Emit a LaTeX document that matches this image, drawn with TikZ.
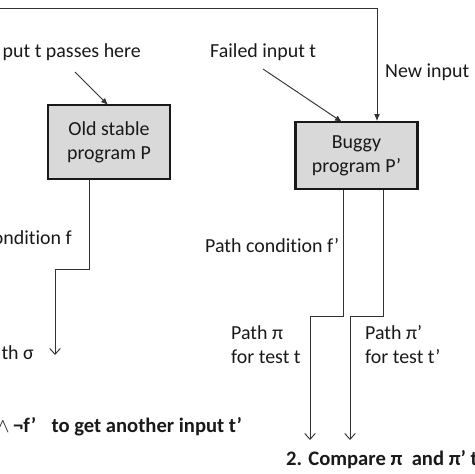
\documentclass[tikz,border=0pt]{standalone}
\usepackage{fontspec}
\setmainfont{Carlito}[Ligatures=NoCommon]
\usetikzlibrary{arrows.meta}

\begin{document}
\begin{tikzpicture}[
    x=0.03cm, y=-0.03cm,
    every node/.style={font=\fontsize{17}{20.5}\selectfont, inner sep=0pt, align=left, text=black!90},
    step note/.style={font=\fontsize{17.6}{21}\selectfont\bfseries},
    prog/.style={draw=black!90, line width=1.8pt, fill=black!15, align=center,
                 minimum width=3.66cm, minimum height=2.2cm},
    wire/.style={draw=black!80, line width=0.8pt},
    feed/.style={wire, -{Latex[length=6pt,width=5pt]}},
    trace/.style={wire, -{Straight Barb[length=5pt,width=9pt]}}
]
  \useasboundingbox (0,0) rectangle (474,474);
  \clip (0,0) rectangle (474,474);

  % Program boxes
  \node[prog] (old) at (109,142) {Old stable\\program P};
  \node[prog, minimum height=2.0cm] (buggy) at (356.5,155.5) {Buggy\\program P’};

  % Inputs
  \node[anchor=east] (passtxt) at (141,52) {put t passes here};
  \node[anchor=west] (failtxt) at (210,52) {Failed input t};
  \node[anchor=west] (newtxt)  at (385,72) {New input};
  \coordinate (passtail) at (75,72);
  \coordinate (passin)   at (108,105);
  \coordinate (failtail) at (263,69);
  \coordinate (failin)   at (342,122);
  \coordinate (newsrc)   at (0,8);
  \draw[feed] (passtail) -- (passin);
  \draw[feed] (failtail) -- (failin);
  \draw[feed] (newsrc) -| (buggy.north -| 377,0);

  % Path of old program
  \coordinate (oldbend) at (89,269);
  \coordinate (oldend)  at (55,355);
  \draw[trace] (old.south -| oldbend) -- (oldbend) -| (oldend);
  \node[anchor=east] (fcond)  at (72,238) {ondition f};
  \node[anchor=east] (sigtxt) at (34,353) {th σ};

  % Paths of buggy program
  \coordinate (pibend)  at (343,316);
  \coordinate (piend)   at (310,440);
  \coordinate (pipbend) at (383,316);
  \coordinate (pipend)  at (350,440);
  \draw[trace] (buggy.south -| pibend) -- (pibend) -| (piend);
  \draw[trace] (buggy.south -| pipbend) -- (pipbend) -| (pipend);
  \node[anchor=west] (fpcond) at (205,246) {Path condition f’};
  \node[anchor=west] (pitxt)  at (231,345) {Path π\\for test t};
  \node[anchor=west] (piptxt) at (365,345) {Path π’\\for test t’};

  % Steps
  \node[step note, anchor=west] (solve)   at (-4,427) {$\wedge$\,¬f’\hspace{0.75em}to get another input t’};
  \node[step note, anchor=west] (compare) at (286,460) {2. Compare π\ \ and π’ to};
\end{tikzpicture}
\end{document}
